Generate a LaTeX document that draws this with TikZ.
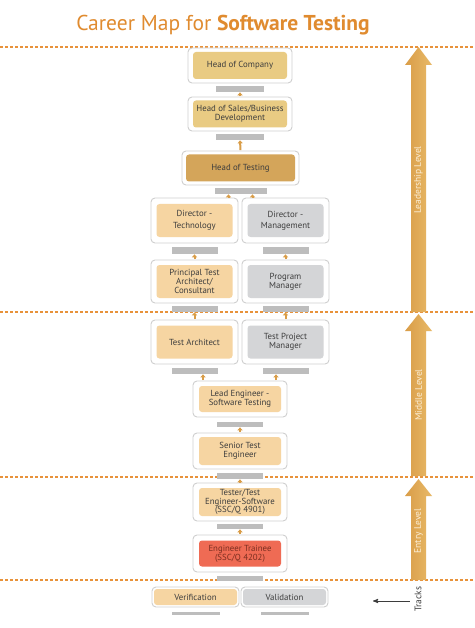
\documentclass[tikz,border=0pt]{standalone}
\usepackage{fontspec}
\setmainfont{PT Sans}
\usetikzlibrary{shapes,arrows,arrows.meta,positioning,calc}
\definecolor{titleorange}{HTML}{E08B2F}
\definecolor{dashorange}{HTML}{E8923A}
\definecolor{screenline}{HTML}{CFCFCF}
\definecolor{standgray}{HTML}{BDBDBD}
\definecolor{textgray}{HTML}{3D3D3D}
\definecolor{goldpale}{HTML}{E9CB83}
\definecolor{goldmid}{HTML}{D4A55A}
\definecolor{peach}{HTML}{F6D5A2}
\definecolor{greyfill}{HTML}{D4D5D7}
\definecolor{coral}{HTML}{EF6B54}
\definecolor{coraltext}{HTML}{7A2E20}
\definecolor{arrowgold}{HTML}{D99D48}
\definecolor{arrowlight}{HTML}{E8B968}
\definecolor{labelcream}{HTML}{FCEFD8}
\tikzstyle{screen} = [rectangle, draw=screenline, line width=0.9pt, fill=white, rounded corners=4pt, inner sep=0pt]
\tikzstyle{panel} = [rectangle, rounded corners=3pt, text centered, align=center, inner sep=0pt, text=textgray, font=\fontsize{8.8}{9.2}\selectfont]
\tikzstyle{stand} = [trapezium, trapezium angle=60, trapezium stretches body, fill=standgray, inner sep=0pt, minimum height=6pt, minimum width=48pt]
\tikzstyle{climb} = [-{Triangle[width=5pt,length=3pt]}, line width=2pt, draw=arrowgold, shorten >=0.5pt, shorten <=0.5pt]
\tikzstyle{levelline} = [draw=dashorange, line width=1.1pt, dash pattern=on 3pt off 2pt]
\tikzstyle{levelarrow} = [left color=arrowgold, right color=arrowlight]
\tikzstyle{levellabel} = [rotate=90, text=labelcream, font=\fontsize{9.5}{10}\selectfont, inner sep=0pt]

\begin{document}
\begin{tikzpicture}[x=1pt, y=-1pt, >=stealth']
    \useasboundingbox (0,0) rectangle (474,628);
    \fill[white] (0,0) rectangle (474,628);

    % level borders
    \foreach \y in {47,312,477,580}
        \draw[levelline] (0,\y) -- (474,\y);

    \node[text=titleorange, font=\fontsize{21.5}{24}\selectfont] (title) at (223,25) {Career Map for \textbf{Software Testing}};

    % leadership level
    \node[screen, minimum width=104pt, minimum height=35pt] (company) at (240,65.5) {};
    \node[panel, fill=goldpale, minimum width=94pt, minimum height=27pt] (companytxt) at (company) {Head of Company};
    \node[stand, below=2pt of company] (companystand) {};

    \node[screen, minimum width=104pt, minimum height=34pt] (sales) at (240,114) {};
    \node[panel, fill=goldpale, minimum width=94pt, minimum height=27pt] (salestxt) at (sales) {Head of Sales/Business\\Development};
    \node[stand, below=2pt of sales] (salesstand) {};

    \node[screen, minimum width=117pt, minimum height=34pt] (testing) at (240.5,168) {};
    \node[panel, fill=goldmid, minimum width=109pt, minimum height=27pt] (testingtxt) at (testing) {Head of Testing};
    \node[stand, minimum width=52pt, below=2pt of testing] (testingstand) {};

    \node[screen, minimum width=87pt, minimum height=45pt] (dirtech) at (194.5,220.5) {};
    \node[panel, fill=peach, minimum width=76pt, minimum height=33pt, font=\fontsize{8.8}{12}\selectfont] (dirtechtxt) at (dirtech) {Director -\\Technology};
    \node[stand, minimum width=46pt, minimum height=7pt, below=3pt of dirtech] (dirtechstand) {};
    \node[screen, minimum width=87pt, minimum height=45pt] (dirmgmt) at (285.5,220.5) {};
    \node[panel, fill=greyfill, minimum width=76pt, minimum height=33pt, font=\fontsize{8.8}{11}\selectfont] (dirmgmttxt) at (dirmgmt) {Director -\\Management};
    \node[stand, minimum width=46pt, minimum height=7pt, below=3pt of dirmgmt] (dirmgmtstand) {};

    \node[screen, minimum width=87pt, minimum height=43pt] (principal) at (194.5,281.5) {};
    \node[panel, fill=peach, minimum width=76pt, minimum height=33pt] (principaltxt) at (principal) {Principal Test\\Architect/\\Consultant};
    \node[stand, minimum width=46pt, below=2pt of principal] (principalstand) {};
    \node[screen, minimum width=87pt, minimum height=43pt] (program) at (285.5,281.5) {};
    \node[panel, fill=greyfill, minimum width=76pt, minimum height=33pt] (programtxt) at (program) {Program\\Manager};
    \node[stand, minimum width=46pt, below=2pt of program] (programstand) {};

    % middle level
    \node[screen, minimum width=87pt, minimum height=44pt] (testarch) at (194.5,342) {};
    \node[panel, fill=peach, minimum width=76pt, minimum height=33pt] (testarchtxt) at (testarch) {Test Architect};
    \node[stand, minimum width=46pt, below=3pt of testarch] (testarchstand) {};
    \node[screen, minimum width=87pt, minimum height=44pt] (tpm) at (285.5,342) {};
    \node[panel, fill=greyfill, minimum width=76pt, minimum height=33pt] (tpmtxt) at (tpm) {Test Project\\Manager};
    \node[stand, minimum width=46pt, below=3pt of tpm] (tpmstand) {};

    \node[screen, minimum width=94pt, minimum height=36pt] (lead) at (240,399) {};
    \node[panel, fill=peach, minimum width=82pt, minimum height=26pt] (leadtxt) at (lead) {Lead Engineer -\\Software Testing};
    \node[stand, minimum width=46pt, minimum height=5pt, below=4pt of lead] (leadstand) {};

    \node[screen, minimum width=94pt, minimum height=36pt] (senior) at (240,451) {};
    \node[panel, fill=peach, minimum width=82pt, minimum height=28pt] (seniortxt) at (senior) {Senior Test\\Engineer};
    \node[stand, minimum width=46pt, below=3pt of senior] (seniorstand) {};

    % entry level
    \node[screen, minimum width=94pt, minimum height=38pt] (tester) at (240,502) {};
    \node[panel, fill=peach, minimum width=82pt, minimum height=28pt, font=\fontsize{8.8}{8.6}\selectfont] (testertxt) at (tester) {Tester/Test\\Engineer-Software\\(SSC/Q 4901)};
    \node[stand, minimum width=46pt, minimum height=5pt, below=2pt of tester] (testerstand) {};

    \node[screen, minimum width=94pt, minimum height=37pt] (trainee) at (240,553.5) {};
    \node[panel, fill=coral, text=coraltext, minimum width=82pt, minimum height=26pt] (traineetxt) at (trainee) {Engineer Trainee\\(SSC/Q 4202)};
    \node[stand, minimum width=46pt, minimum height=5pt, below=3pt of trainee] (traineestand) {};

    % tracks
    \node[screen, minimum width=87pt, minimum height=20pt] (verif) at (195.5,597) {};
    \node[panel, fill=peach, minimum width=83pt, minimum height=16pt] (veriftxt) at (verif) {Verification};
    \node[stand, minimum height=3pt, below=4pt of verif] (verifstand) {};
    \node[screen, minimum width=87pt, minimum height=20pt] (valid) at (284.5,597) {};
    \node[panel, fill=greyfill, minimum width=83pt, minimum height=16pt] (validtxt) at (valid) {Validation};
    \node[stand, minimum height=3pt, below=4pt of valid] (validstand) {};

    % promotions
    \draw[climb] (sales.north) -- (companystand.south);
    \draw[climb] (testing.north) -- (salesstand.south);
    \draw[climb] ([xshift=-12pt]testingstand.south |- dirtech.north) -- ([xshift=-12pt]testingstand.south);
    \draw[climb] ([xshift=12pt]testingstand.south |- dirmgmt.north) -- ([xshift=12pt]testingstand.south);
    \draw[climb] (dirtechstand.south |- principal.north) -- (dirtechstand.south);
    \draw[climb] (dirmgmtstand.south |- program.north) -- (dirmgmtstand.south);
    \draw[climb] (principalstand.south |- testarch.north) -- (principalstand.south);
    \draw[climb] (programstand.south |- tpm.north) -- (programstand.south);
    \draw[climb] ([xshift=-37pt]lead.north) -- ([xshift=-37pt]lead.north |- testarchstand.south);
    \draw[climb] ([xshift=36pt]lead.north) -- ([xshift=36pt]lead.north |- tpmstand.south);
    \draw[climb] (senior.north) -- (leadstand.south);
    \draw[climb] (tester.north) -- (seniorstand.south);
    \draw[climb] (trainee.north) -- (testerstand.south);

    % level arrows
    \foreach \tip/\base/\bot in {47/65/312, 314/331/476, 479/496/580}
        \path[levelarrow] (411,\bot) -- (411,\base) -- (405,\base) -- (418.5,\tip) -- (432,\base) -- (426,\base) -- (426,\bot) -- cycle;
    \node[levellabel] (leadership) at (418.5,180) {Leadership Level};
    \node[levellabel] (middle) at (418.5,395) {Middle Level};
    \node[levellabel] (entry) at (418.5,531) {Entry Level};

    \node[rotate=90, text=textgray, font=\fontsize{9.5}{10}\selectfont, inner sep=1pt, outer sep=4pt] (tracks) at (418,599) {Tracks};
    \coordinate (tracksend) at (373,601);
    \draw[->, line width=0.9pt, draw=textgray] (tracks.north |- tracksend) -- (tracksend);
\end{tikzpicture}
\end{document}
